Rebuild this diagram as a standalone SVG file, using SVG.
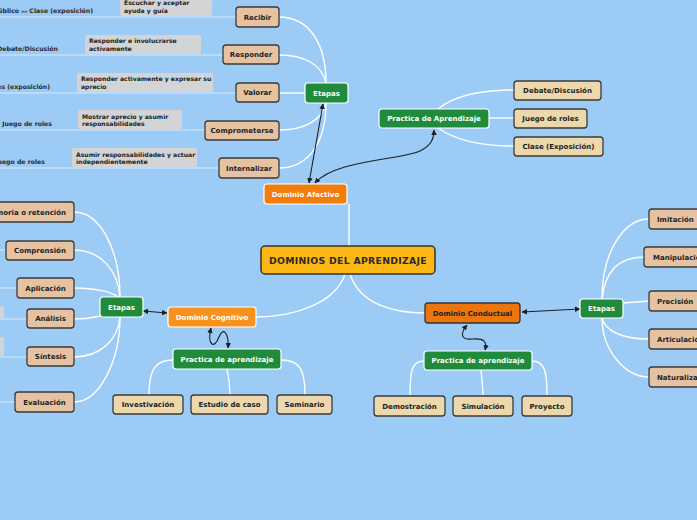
<svg xmlns="http://www.w3.org/2000/svg" width="697" height="520" viewBox="0 0 697 520">
<defs>
<marker id="ah" viewBox="0 0 6 6" refX="5.5" refY="3" markerWidth="5" markerHeight="5" orient="auto-start-reverse"><path d="M0,0 L6,3 L0,6 z" fill="#1e1e1e"/></marker>
<style>
text{font-family:"DejaVu Sans","Verdana",sans-serif;font-weight:bold}
.lbl{font-size:7px;text-anchor:middle}
.dk{fill:#222}
.wt{fill:#fff}
.stage rect{fill:#e5c3a2;stroke:#3a3a3a;stroke-width:1.3}
.item rect{fill:#ecd8ac;stroke:#3a3a3a;stroke-width:1.3}
.grn rect{fill:#1f8b3b;stroke:#fff;stroke-width:1.2}
.note rect{fill:#d2d4d6}
.note text{font-size:6.1px;fill:#222}
.side{font-size:6.2px;fill:#2a2a2a;text-anchor:end}
.wl{fill:none;stroke:#fff;stroke-width:1.4}
.wf{fill:none;stroke:#fff;stroke-opacity:0.6;stroke-width:1.2}
.ar{fill:none;stroke:#1e1e1e;stroke-width:1.1;marker-start:url(#ah);marker-end:url(#ah)}
</style>
</defs>
<rect width="697" height="520" fill="#9ccbf6"/>

<g id="connectors">
<path class="wf" d="M0,17 H236 M0,55 H223 M0,93 H236 M0,130 H205 M0,168 H219"/>
<path class="wf" d="M0,250 H6 M0,288 H17 M0,319 H27 M0,357 H27 M0,402 H15"/>
<path class="wl" d="M279,17 C310,17 326,45 326,83"/>
<path class="wl" d="M279,55 C305,55 322,65 326,83"/>
<path class="wl" d="M279,93 L305,93"/>
<path class="wl" d="M279,130 C305,130 322,120 326,103"/>
<path class="wl" d="M279,168 C310,168 326,140 326,103"/>
<path class="wl" d="M349,246 V204"/>
<path class="wl" d="M345,274 C335,305 290,317 256,317"/>
<path class="wl" d="M350,274 C360,305 395,313 425,313"/>
<path class="wl" d="M489,118 H514"/>
<path class="wl" d="M438,109 C455,95 480,90 514,90"/>
<path class="wl" d="M438,128 C455,140 480,146 514,146"/>
<path class="wl" d="M74,212 C100,212 120,250 120,297"/>
<path class="wl" d="M74,250 C100,250 118,270 120,297"/>
<path class="wl" d="M74,288 C95,288 112,292 118,297"/>
<path class="wl" d="M74,319 C88,319 95,317 100,316"/>
<path class="wl" d="M74,357 C100,357 118,340 120,317"/>
<path class="wl" d="M74,402 C100,402 120,360 120,317"/>
<path class="wl" d="M173,360 C155,360 149,370 149,395"/>
<path class="wl" d="M227,369 C229,378 230,385 230,395"/>
<path class="wl" d="M281,360 C300,360 305,370 305,395"/>
<path class="wl" d="M602,299 C602,250 625,219 649,219"/>
<path class="wl" d="M602,299 C605,270 620,257 644,257"/>
<path class="wl" d="M623,303 L649,301"/>
<path class="wl" d="M602,318 C605,330 620,339 649,339"/>
<path class="wl" d="M602,318 C602,350 625,377 649,377"/>
<path class="wl" d="M424,361 C412,361 410,370 410,396"/>
<path class="wl" d="M481,370 C482,380 483,388 483,396"/>
<path class="wl" d="M532,361 C545,361 547,372 547,396"/>
<path class="ar" d="M323,104 L309,183"/>
<path class="ar" d="M315,183 C335,160 400,160 420,151 C432,145 434,138 434,130"/>
<path class="ar" d="M143,311 L167,313"/>
<path class="ar" d="M211,328 C207,345 214,350 219,337 C223,326 229,333 228,348"/>
<path class="ar" d="M467,325 C459,335 462,340 472,339 C485,338 487,342 485,350"/>
<path class="ar" d="M522,312 L580,309"/>
</g>

<g id="side-texts">
<text class="side" x="93" y="13">Público <tspan font-size="4.3px" fill="#555">en</tspan> Clase (exposición)</text>
<text class="side" x="58" y="51">Debate/Discusión</text>
<text class="side" x="50" y="89">Clases (exposición)</text>
<text class="side" x="52" y="126">Juego de roles</text>
<text class="side" x="45" y="164">Juego de roles</text>
</g>

<g id="notes" class="note">
<g id="note-recibir"><rect x="120" y="-4" width="92" height="20" rx="2"/><text x="124" y="5">Escuchar y aceptar</text><text x="124" y="13">ayuda y guía</text></g>
<g id="note-responder"><rect x="85" y="35" width="116" height="19" rx="2"/><text x="89" y="43">Responder e involucrarse</text><text x="89" y="51">activamente</text></g>
<g id="note-valorar"><rect x="77" y="73" width="136" height="19" rx="2"/><text x="81" y="81">Responder activamente y expresar su</text><text x="81" y="89">aprecio</text></g>
<g id="note-comprometerse"><rect x="78" y="110" width="104" height="19" rx="2"/><text x="82" y="119">Mostrar aprecio y asumir</text><text x="82" y="126">responsabilidades</text></g>
<g id="note-internalizar"><rect x="72" y="148" width="125" height="19" rx="2"/><text x="76" y="156.5">Asumir responsabilidades y actuar</text><text x="76" y="164">independientemente</text></g>
<g id="note-analisis"><rect x="-20" y="306" width="24" height="12" rx="2"/></g>
<g id="note-sintesis"><rect x="-20" y="337" width="24" height="19" rx="2"/></g>
</g>

<g id="central"><rect x="261" y="246" width="174" height="28" rx="4" fill="#fdb714" stroke="#333" stroke-width="1.5"/><text x="348" y="263.5" font-size="9.3px" text-anchor="middle" fill="#2b2b2b" letter-spacing="0.3">DOMINIOS DEL APRENDIZAJE</text></g>

<g id="dominio-afectivo"><rect x="264" y="184" width="83" height="20" rx="3" fill="#f27c0c" stroke="#fff" stroke-width="1.2"/><text class="lbl wt" x="305.5" y="196.5">Dominio Afectivo</text></g>
<g id="etapas-afectivo" class="grn"><rect x="305" y="83" width="43" height="20" rx="3"/><text class="lbl wt" x="326.5" y="95.5">Etapas</text></g>
<g id="recibir" class="stage"><rect x="236" y="7" width="43" height="20" rx="3"/><text class="lbl dk" x="257.5" y="19.5">Recibir</text></g>
<g id="responder" class="stage"><rect x="223" y="45" width="56" height="19" rx="3"/><text class="lbl dk" x="251" y="57">Responder</text></g>
<g id="valorar" class="stage"><rect x="236" y="83" width="43" height="19" rx="3"/><text class="lbl dk" x="257.5" y="95">Valorar</text></g>
<g id="comprometerse" class="stage"><rect x="205" y="121" width="74" height="19" rx="3"/><text class="lbl dk" x="242" y="133">Comprometerse</text></g>
<g id="internalizar" class="stage"><rect x="219" y="158" width="60" height="20" rx="3"/><text class="lbl dk" x="249" y="170.5">Internalizar</text></g>
<g id="practica-afectivo" class="grn"><rect x="379" y="109" width="110" height="19" rx="3"/><text class="lbl wt" x="434" y="121">Practica de Aprendizaje</text></g>
<g id="debate" class="item"><rect x="514" y="81" width="87" height="19" rx="3"/><text class="lbl dk" x="557.5" y="93">Debate/Discusión</text></g>
<g id="juego" class="item"><rect x="514" y="109" width="73" height="19" rx="3"/><text class="lbl dk" x="550.5" y="121">Juego de roles</text></g>
<g id="clase" class="item"><rect x="514" y="137" width="89" height="19" rx="3"/><text class="lbl dk" x="558.5" y="149">Clase (Exposición)</text></g>

<g id="dominio-cognitivo"><rect x="168" y="307" width="88" height="20" rx="3" fill="#f7921e" stroke="#fff" stroke-width="1.2"/><text class="lbl wt" x="212" y="319.5">Dominio Cognitivo</text></g>
<g id="etapas-cognitivo" class="grn"><rect x="100" y="297" width="43" height="20" rx="3"/><text class="lbl wt" x="121.5" y="309.5">Etapas</text></g>
<g id="memoria" class="stage"><rect x="-40" y="202" width="114" height="20" rx="3"/><text class="dk" font-size="7px" x="66" y="214.5" text-anchor="end">Memoria o retención</text></g>
<g id="comprension" class="stage"><rect x="6" y="241" width="68" height="19" rx="3"/><text class="lbl dk" x="40" y="253">Comprensión</text></g>
<g id="aplicacion" class="stage"><rect x="17" y="278" width="57" height="20" rx="3"/><text class="lbl dk" x="45.5" y="290.5">Aplicación</text></g>
<g id="analisis" class="stage"><rect x="27" y="309" width="47" height="19" rx="3"/><text class="lbl dk" x="50.5" y="321">Análisis</text></g>
<g id="sintesis" class="stage"><rect x="27" y="347" width="47" height="19" rx="3"/><text class="lbl dk" x="50.5" y="359">Síntesis</text></g>
<g id="evaluacion" class="stage"><rect x="15" y="392" width="59" height="20" rx="3"/><text class="lbl dk" x="44.5" y="404.5">Evaluación</text></g>
<g id="practica-cognitivo" class="grn"><rect x="173" y="349" width="108" height="20" rx="3"/><text class="lbl wt" x="227" y="361.5">Practica de aprendizaje</text></g>
<g id="investivacion" class="item"><rect x="113" y="395" width="70" height="19" rx="3"/><text class="lbl dk" x="148" y="407">Investivación</text></g>
<g id="estudio" class="item"><rect x="191" y="395" width="77" height="19" rx="3"/><text class="lbl dk" x="229.5" y="407">Estudio de caso</text></g>
<g id="seminario" class="item"><rect x="277" y="395" width="55" height="19" rx="3"/><text class="lbl dk" x="304.5" y="407">Seminario</text></g>

<g id="dominio-conductual"><rect x="425" y="303" width="95" height="20" rx="3" fill="#ec750d" stroke="#333" stroke-width="1.3"/><text class="lbl dk" x="472.5" y="315.5">Dominio Conductual</text></g>
<g id="etapas-conductual" class="grn"><rect x="580" y="299" width="43" height="19" rx="3"/><text class="lbl wt" x="601.5" y="311">Etapas</text></g>
<g id="imitacion" class="stage"><rect x="649" y="209" width="60" height="20" rx="3"/><text class="dk" font-size="7px" x="657" y="221.5">Imitación</text></g>
<g id="manipulacion" class="stage"><rect x="644" y="247" width="70" height="20" rx="3"/><text class="dk" font-size="7px" x="653" y="259.5">Manipulación</text></g>
<g id="precision" class="stage"><rect x="649" y="291" width="60" height="20" rx="3"/><text class="dk" font-size="7px" x="657" y="303.5">Precisión</text></g>
<g id="articulacion" class="stage"><rect x="649" y="329" width="70" height="20" rx="3"/><text class="dk" font-size="7px" x="657" y="341.5">Articulación</text></g>
<g id="naturalizacion" class="stage"><rect x="649" y="367" width="80" height="20" rx="3"/><text class="dk" font-size="7px" x="657" y="379.5">Naturalización</text></g>
<g id="practica-conductual" class="grn"><rect x="424" y="351" width="108" height="19" rx="3"/><text class="lbl wt" x="478" y="363">Practica de aprendizaje</text></g>
<g id="demostracion" class="item"><rect x="374" y="396" width="71" height="20" rx="3"/><text class="lbl dk" x="409.5" y="408.5">Demostración</text></g>
<g id="simulacion" class="item"><rect x="453" y="396" width="60" height="20" rx="3"/><text class="lbl dk" x="483" y="408.5">Simulación</text></g>
<g id="proyecto" class="item"><rect x="522" y="396" width="50" height="20" rx="3"/><text class="lbl dk" x="547" y="408.5">Proyecto</text></g>
</svg>
